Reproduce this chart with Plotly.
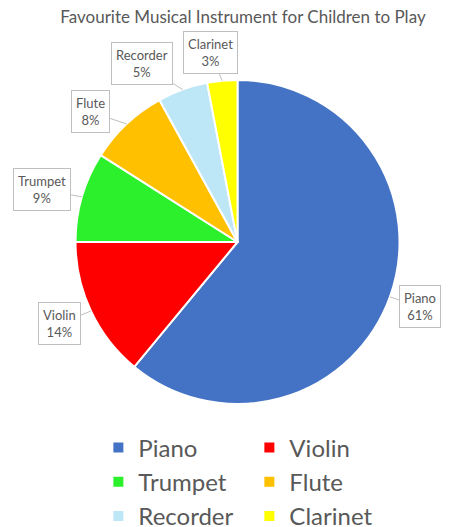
import math
import plotly.graph_objects as go

instruments = ["Piano", "Violin", "Trumpet", "Flute", "Recorder", "Clarinet"]
shares = [61, 14, 9, 8, 5, 3]
colors = ["#4472C4", "#FF0000", "#2CF02C", "#FFC000", "#BDE6F7", "#FFFF00"]
# callout label offsets (pixels) from the slice edge, styling only
callout_dx = [30, -31, -40, -36, -41, -12]
callout_dy = [10, 13, -7, -12, -26, -28]

# the page places the figure 8px in from the top-left corner
PAGE_OFF = 8
W, H = 461 - PAGE_OFF, 527 - PAGE_OFF
ML, MR, MT, MB = 20, 61, 0, 102
PW, PH = W - ML - MR, H - MT - MB
cx, cy, r = 237.5 - PAGE_OFF, 242 - PAGE_OFF, 162  # pie centre / radius in pixels


def fx(px):
    return (px - ML) / PW


def fy(py):
    return 1 - (py - MT) / PH


fig = go.Figure(go.Pie(
    labels=instruments, values=shares, sort=False, direction="clockwise",
    rotation=0, textinfo="none", hoverinfo="label+percent",
    marker=dict(colors=colors, line=dict(color="white", width=2)),
    domain=dict(x=[fx(cx - r), min(1, fx(cx + r))], y=[fy(cy + r), fy(cy - r)]),
))

total = sum(shares)
cum = 0
annotations = []
for name, v, dx, dy in zip(instruments, shares, callout_dx, callout_dy):
    mid = (cum + v / 2) / total * 2 * math.pi
    cum += v
    sx, sy = math.sin(mid), math.cos(mid)
    px = cx + r * sx
    py = cy - r * sy
    annotations.append(dict(
        x=fx(px), y=fy(py), xref="paper", yref="paper",
        text=f"{name}<br>{round(v / total * 100)}%",
        showarrow=True, arrowhead=0, arrowwidth=1, arrowcolor="#BFBFBF",
        ax=dx, ay=dy, standoff=0,
        bordercolor="#BFBFBF", borderwidth=1, borderpad=4, bgcolor="white",
        font=dict(size=13, color="#595959", family="Lato"),
    ))

fig.update_layout(
    width=W, height=H,
    margin=dict(l=ML, r=MR, t=MT, b=MB, autoexpand=False),
    paper_bgcolor="white", plot_bgcolor="white",
    title=dict(text="Favourite Musical Instrument for Children to Play",
               x=(243 - PAGE_OFF) / W, xanchor="center", y=1 - 9 / H, yanchor="middle",
               font=dict(size=17, color="#595959", family="Lato")),
    annotations=annotations,
    legend=dict(orientation="h", x=1.001, xanchor="right", y=-0.001, yanchor="top",
                entrywidth=106, entrywidthmode="pixels", traceorder="normal",
                font=dict(size=24, color="#595959", family="Lato"),
                itemsizing="constant", tracegroupgap=0),
    showlegend=True,
)

fig.write_html("out.html")
